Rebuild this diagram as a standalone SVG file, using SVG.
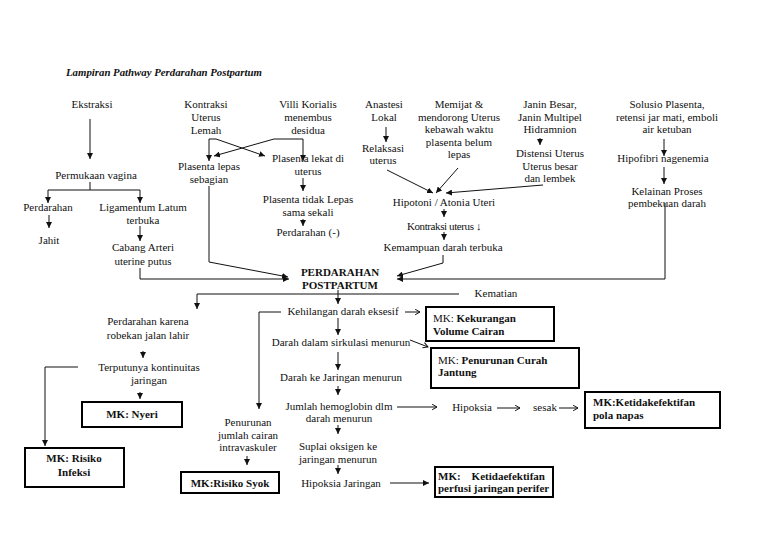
<svg xmlns="http://www.w3.org/2000/svg" width="768" height="543" viewBox="0 0 768 543">
<defs>
<marker id="a" viewBox="0 0 10 10" refX="10" refY="5" markerWidth="6" markerHeight="6" markerUnits="userSpaceOnUse" orient="auto"><path d="M0,0 L10,5 L0,10 z" fill="#111"/></marker>
<marker id="o" viewBox="0 0 10 10" refX="9" refY="5" markerWidth="7" markerHeight="7" markerUnits="userSpaceOnUse" orient="auto"><path d="M2,1 L9,5 L2,9" fill="none" stroke="#111" stroke-width="1.4"/></marker>
</defs>
<style>
text{font-family:"Liberation Serif","Times New Roman",serif;font-size:11px;fill:#111}
.c{text-anchor:middle}
.b{font-weight:bold}
.t{font-weight:bold;font-style:italic;font-size:10.8px}
.box{fill:#fff;stroke:#000;stroke-width:2}
#connectors line,#connectors polyline{stroke:#111;stroke-width:1;fill:none}
.f{marker-end:url(#a)}
.op{marker-end:url(#o)}
</style>
<rect width="768" height="543" fill="#fff"/>
<text class="t" x="66" y="76">Lampiran Pathway Perdarahan Postpartum</text>

<g id="connectors">
<line class="f" x1="90" y1="119" x2="90" y2="159"/>
<polyline points="90,182 90,190"/>
<line x1="48" y1="190" x2="140" y2="190"/>
<line class="f" x1="48" y1="190" x2="48" y2="203"/>
<line class="f" x1="140" y1="190" x2="140" y2="203"/>
<line class="f" x1="49" y1="215" x2="49" y2="228"/>
<line class="f" x1="140" y1="226" x2="140" y2="241"/>
<polyline class="f" points="140,268 140,279 289,279"/>
<polyline class="f" points="209,186 209,262 288,277"/>
<polyline class="f" points="443,255 443,263 397,276"/>
<polyline class="f" points="665,203 665,279 397,279"/>
<line class="f" x1="209" y1="139" x2="209" y2="161"/>
<polyline class="f" points="209,139 216,139 265,156"/>
<line class="f" x1="303" y1="139" x2="303" y2="161"/>
<polyline class="f" points="303,139 274,139 214,156"/>
<line class="f" x1="303" y1="178" x2="303" y2="191"/>
<line class="f" x1="303" y1="219" x2="303" y2="226"/>
<line class="f" x1="386" y1="127" x2="386" y2="142"/>
<line class="f" x1="387" y1="170" x2="433" y2="193"/>
<line class="f" x1="458" y1="168" x2="436" y2="193"/>
<line class="f" x1="543" y1="185" x2="446" y2="193"/>
<line class="f" x1="540" y1="138" x2="540" y2="145"/>
<line class="f" x1="444" y1="209" x2="444" y2="217"/>
<line class="f" x1="444" y1="232" x2="444" y2="240"/>
<line class="f" x1="664" y1="139" x2="664" y2="156"/>
<line class="f" x1="664" y1="167" x2="664" y2="184"/>
<line class="f" x1="338" y1="290" x2="338" y2="304"/>
<line x1="197" y1="294" x2="459" y2="294"/>
<line class="f" x1="197" y1="294" x2="197" y2="309"/>
<line class="f" x1="338" y1="318" x2="338" y2="335"/>
<line class="f" x1="338" y1="352" x2="338" y2="370"/>
<line class="f" x1="338" y1="386" x2="338" y2="395"/>
<line class="f" x1="338" y1="425" x2="338" y2="434"/>
<line class="f" x1="338" y1="465" x2="338" y2="474"/>
<polyline class="f" points="281,312 259,312 259,409"/>
<line class="f" x1="247" y1="456" x2="247" y2="465"/>
<line class="op" x1="405" y1="312" x2="420" y2="312"/>
<line class="op" x1="410" y1="340" x2="428" y2="347"/>
<line class="op" x1="397" y1="407" x2="437" y2="407"/>
<line class="op" x1="497" y1="408" x2="520" y2="408"/>
<line class="op" x1="559" y1="408" x2="578" y2="408"/>
<line class="f" x1="390" y1="483" x2="429" y2="483"/>
<line class="f" x1="143" y1="351" x2="143" y2="358"/>
<line class="f" x1="140" y1="392" x2="140" y2="399"/>
<polyline class="f" points="78,367 45,367 45,446"/>
</g>

<g id="ekstraksi"><text class="c" x="92" y="108">Ekstraksi</text></g>
<g id="kontraksi-lemah"><text class="c" x="206" y="108">Kontraksi</text><text class="c" x="206" y="121">Uterus</text><text class="c" x="206" y="134">Lemah</text></g>
<g id="villi"><text class="c" x="308" y="108">Villi Korialis</text><text class="c" x="308" y="121">menembus</text><text class="c" x="308" y="134">desidua</text></g>
<g id="anastesi"><text class="c" x="384" y="108">Anastesi</text><text class="c" x="384" y="121">Lokal</text></g>
<g id="memijat"><text class="c" x="459" y="108">Memijat &amp;</text><text class="c" x="459" y="120.5">mendorong Uterus</text><text class="c" x="459" y="133">kebawah waktu</text><text class="c" x="459" y="145.5">plasenta belum</text><text class="c" x="459" y="158">lepas</text></g>
<g id="janin"><text class="c" x="550" y="108">Janin Besar,</text><text class="c" x="550" y="120.5">Janin Multipel</text><text class="c" x="550" y="133">Hidramnion</text></g>
<g id="distensi"><text class="c" x="550" y="157">Distensi Uterus</text><text class="c" x="550" y="169.5">Uterus besar</text><text class="c" x="550" y="182">dan lembek</text></g>
<g id="solusio"><text class="c" x="667" y="108">Solusio Plasenta,</text><text class="c" x="667" y="120.5">retensi jar mati, emboli</text><text class="c" x="667" y="133">air ketuban</text></g>
<g id="hipofibri"><text class="c" x="663" y="162">Hipofibri nagenemia</text></g>
<g id="kelainan"><text class="c" x="667" y="194.5">Kelainan Proses</text><text class="c" x="667" y="207">pembekuan darah</text></g>
<g id="relaksasi"><text class="c" x="383" y="151.5">Relaksasi</text><text class="c" x="383" y="164">uterus</text></g>
<g id="hipotoni"><text class="c" x="444" y="205.5">Hipotoni / Atonia Uteri</text></g>
<g id="kontraksi-turun"><text class="c" x="444" y="229.5" style="letter-spacing:-0.4px">Kontraksi uterus ↓</text></g>
<g id="kemampuan"><text class="c" x="443" y="250.5">Kemampuan darah terbuka</text></g>
<g id="permukaan"><text class="c" x="96" y="179">Permukaan vagina</text></g>
<g id="perdarahan"><text class="c" x="48" y="211">Perdarahan</text></g>
<g id="ligamentum"><text class="c" x="143" y="211">Ligamentum Latum</text><text class="c" x="143" y="224">terbuka</text></g>
<g id="jahit"><text class="c" x="49" y="244">Jahit</text></g>
<g id="cabang"><text class="c" x="143" y="251">Cabang Arteri</text><text class="c" x="143" y="264.5">uterine putus</text></g>
<g id="plasenta-lepas"><text class="c" x="209" y="170">Plasenta lepas</text><text class="c" x="209" y="183">sebagian</text></g>
<g id="plasenta-lekat"><text class="c" x="308" y="162">Plasenta lekat di</text><text class="c" x="308" y="175">uterus</text></g>
<g id="plasenta-tidak"><text class="c" x="308" y="202.5">Plasenta tidak Lepas</text><text class="c" x="308" y="216">sama sekali</text></g>
<g id="perdarahan-neg"><text class="c" x="308" y="236">Perdarahan (-)</text></g>
<g id="perdarahan-pp"><text class="c b" x="340" y="276">PERDARAHAN</text><text class="c b" x="340" y="289">POSTPARTUM</text></g>
<g id="kematian"><text class="c" x="496" y="297">Kematian</text></g>
<g id="kehilangan"><text class="c" x="343" y="314.5">Kehilangan darah eksesif</text></g>
<g id="darah-sirkulasi"><text class="c" x="341" y="345.5">Darah dalam sirkulasi menurun</text></g>
<g id="darah-jaringan"><text class="c" x="341" y="380.5">Darah ke Jaringan menurun</text></g>
<g id="hemoglobin"><text class="c" x="339" y="409.5">Jumlah hemoglobin dlm</text><text class="c" x="339" y="422">darah menurun</text></g>
<g id="hipoksia"><text class="c" x="472" y="411">Hipoksia</text></g>
<g id="sesak"><text class="c" x="545" y="411">sesak</text></g>
<g id="suplai"><text class="c" x="338" y="449.5">Suplai oksigen ke</text><text class="c" x="338" y="462.5">jaringan menurun</text></g>
<g id="hipoksia-jaringan"><text class="c" x="341" y="487">Hipoksia Jaringan</text></g>
<g id="penurunan-cairan"><text class="c" x="248" y="426">Penurunan</text><text class="c" x="248" y="438.5">jumlah cairan</text><text class="c" x="248" y="451">intravaskuler</text></g>
<g id="robekan"><text class="c" x="148" y="325">Perdarahan karena</text><text class="c" x="148" y="338.5">robekan jalan lahir</text></g>
<g id="terputus"><text class="c" x="149" y="370.5">Terputunya kontinuitas</text><text class="c" x="149" y="383.5">jaringan</text></g>

<g id="mk-nyeri"><rect class="box" x="82" y="402" width="100" height="25"/><text class="c b" x="132" y="417.5">MK: Nyeri</text></g>
<g id="mk-infeksi"><rect class="box" x="25" y="448" width="99" height="39"/><text class="c b" x="74" y="462">MK: Risiko</text><text class="c b" x="74" y="476">Infeksi</text></g>
<g id="mk-syok"><rect class="box" x="181" y="472" width="98" height="21"/><text class="c b" x="230" y="487">MK:Risiko Syok</text></g>
<g id="mk-kekurangan"><rect class="box" x="426" y="307" width="128" height="34"/><text x="433" y="322">MK: <tspan class="b">Kekurangan</tspan></text><text class="b" x="433" y="335">Volume Cairan</text></g>
<g id="mk-curah"><rect class="box" x="431" y="348" width="148" height="40"/><text x="438" y="364">MK: <tspan class="b">Penurunan Curah</tspan></text><text class="b" x="438" y="376">Jantung</text></g>
<g id="mk-napas"><rect class="box" x="585" y="392" width="135" height="36"/><text class="b" x="593" y="406">MK:Ketidakefektifan</text><text class="b" x="593" y="419">pola napas</text></g>
<g id="mk-perfusi"><rect class="box" x="435" y="467" width="118" height="30"/><text class="b" x="438" y="480" xml:space="preserve">MK:    Ketidaefektifan</text><text class="b" x="438" y="492">perfusi jaringan perifer</text></g>
</svg>
